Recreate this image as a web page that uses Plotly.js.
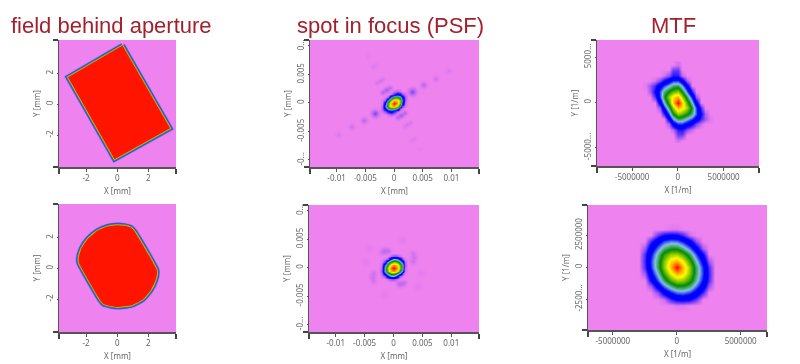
<!DOCTYPE html>
<html><head><meta charset="utf-8">
<script src="https://cdn.plot.ly/plotly-3.0.1.min.js"></script>
<style>html,body{margin:0;padding:0;background:#fff}#g{width:800px;height:364px;filter:blur(0.5px)}</style>
</head><body><div id="g"></div>
<script>
// Titles
var columnTitles = ['field behind aperture', 'spot in focus (PSF)', 'MTF'];

// Aperture outlines, mm
var rectX = [0.34, -3.16, -0.17, 3.40, 0.34];
var rectY = [3.81, 1.75, -3.57, -1.56, 3.81];
var clipX = [-0.02,0.50,0.88,1.12,2.53,2.56,2.48,2.16,1.65,0.92,-0.02,-0.86,-1.06,-2.46,-2.48,-2.31,-1.89,-1.27,-0.64,-0.02];
var clipY = [2.80,2.76,2.65,2.40,-0.07,-0.32,-0.74,-1.42,-2.02,-2.40,-2.51,-2.33,-2.12,0.36,0.63,1.27,1.91,2.44,2.71,2.80];

// PSF core grid, mm (ascending y rows)
var psfGrid = [-0.0025,-0.002,-0.0015,-0.001,-0.0005,0,0.0005,0.001,0.0015,0.002,0.0025];
var psfTopZ = [
 [0,0,0,0,0,0,0,0,0,0,0],
 [0,0,0,.02,.04,.02,0,0,0,0,0],
 [0,.02,.06,.15,.20,.11,.03,0,0,0,0],
 [0,.04,.23,.46,.56,.53,.38,.05,.01,0,0],
 [0,.03,.34,.62,.79,.82,.66,.41,.06,.01,0],
 [0,.01,.26,.60,.84,1,.84,.60,.26,.01,0],
 [0,.01,.06,.41,.66,.82,.79,.62,.34,.03,0],
 [0,0,.01,.05,.38,.53,.56,.46,.23,.04,0],
 [0,0,0,0,.03,.11,.20,.15,.06,.02,0],
 [0,0,0,0,0,.02,.04,.02,0,0,0],
 [0,0,0,0,0,0,0,0,0,0,0]];
var psfBottomZ = [
 [0,0,0,0,0,0,0,0,0,0,0],
 [0,0,0,.02,.05,.06,.03,0,0,0,0],
 [0,.01,.05,.23,.36,.38,.26,.05,.01,0,0],
 [0,.03,.26,.48,.61,.63,.55,.38,.08,.01,0],
 [0,.05,.39,.63,.80,.87,.77,.56,.30,.02,0],
 [0,.03,.40,.66,.87,1,.87,.66,.40,.03,0],
 [0,.02,.30,.56,.77,.87,.80,.63,.39,.05,0],
 [0,.01,.08,.38,.55,.63,.61,.48,.26,.03,0],
 [0,0,.01,.05,.26,.38,.36,.23,.05,.01,0],
 [0,0,0,0,.03,.06,.05,.02,0,0,0],
 [0,0,0,0,0,0,0,0,0,0,0]];

// PSF side lobes: mm, peak level, marker diameter
var lobeTopX = [.00325,.0052,.0073,.0096,-.00325,-.0052,-.0073,-.0096,-.0007,-.0013,-.0019,.0007,.0013,.0019,-.0019,-.0024,-.0029,.0019,.0024,.0029,-.0031,-.0036,.0031,.0036,.0045,-.0045];
var lobeTopY = [.0019,.0031,.0042,.0056,-.0019,-.0031,-.0042,-.0056,.0026,.0022,.0018,-.0026,-.0022,-.0018,.0041,.0038,.0035,-.0041,-.0038,-.0035,.0066,.0063,-.0066,-.0063,-.0082,.0082];
var lobeTopA = [.16,.08,.05,.03,.16,.08,.05,.03,.09,.12,.09,.09,.12,.09,.04,.05,.04,.04,.05,.04,.025,.025,.025,.025,.012,.012];
var lobeTopS = [15,13,12,12,15,13,12,12,10,11,10,10,11,10,9,9,9,9,9,9,9,9,9,9,10,10];
var lobeBotX = [-.0019,-.0014,-.0009,.0019,.0014,.0009,.0034,.0036,.0034,-.0034,-.0036,-.0034,-.0048,-.0042,.0048,.0042,.0016,-.0016];
var lobeBotY = [.0027,.0029,.0029,-.0027,-.0029,-.0029,.0024,.0017,.0010,-.0024,-.0017,-.0010,.0010,.0034,-.0010,-.0034,.0048,-.0048];
var lobeBotA = [.06,.08,.06,.06,.08,.06,.05,.06,.05,.05,.06,.05,.018,.02,.018,.02,.018,.018];
var lobeBotS = [12,13,12,12,13,12,12,13,12,12,13,12,15,15,15,15,15,15];

// MTF grids, 1/m (ascending y rows)
var mtfTopX = [-4000000,-3500000,-3000000,-2500000,-2000000,-1500000,-1000000,-500000,0,500000,1000000,1500000,2000000,2500000,3000000,3500000,4000000];
var mtfTopY = [-4200000,-3600000,-3000000,-2400000,-1800000,-1200000,-600000,0,600000,1200000,1800000,2400000,3000000,3600000,4200000];
var mtfTopZ = [
 [0,0,0,0,0,0,0,0,.02,0,0,0,0,0,0,0,0],
 [0,0,0,0,0,0,0,0,.08,.08,0,0,0,0,0,0,0],
 [0,0,0,0,0,0,0,.03,.12,.13,.06,.02,0,0,0,0,0],
 [0,0,0,0,0,0,.04,.20,.29,.29,.22,.15,.07,.02,0,0,0],
 [0,0,0,0,0,0,.18,.36,.47,.45,.38,.30,.22,.11,.05,.01,0],
 [0,0,0,0,0,.12,.32,.52,.65,.61,.54,.44,.31,.15,.04,0,0],
 [0,0,0,0,.05,.26,.46,.66,.82,.77,.66,.49,.30,.10,0,0,0],
 [0,0,0,0,.19,.39,.59,.80,1,.80,.59,.39,.19,0,0,0,0],
 [0,0,0,.10,.30,.49,.66,.77,.82,.66,.46,.26,.05,0,0,0,0],
 [0,0,.04,.15,.31,.44,.54,.61,.65,.52,.32,.12,0,0,0,0,0],
 [0,.01,.05,.11,.22,.30,.38,.45,.47,.36,.18,0,0,0,0,0,0],
 [0,0,0,.02,.07,.15,.22,.29,.29,.20,.04,0,0,0,0,0,0],
 [0,0,0,0,0,.02,.06,.13,.12,.03,0,0,0,0,0,0,0],
 [0,0,0,0,0,0,0,.08,.08,0,0,0,0,0,0,0,0],
 [0,0,0,0,0,0,0,0,.02,0,0,0,0,0,0,0,0]];
var mtfBotX = [-3500000,-3000000,-2500000,-2000000,-1500000,-1000000,-500000,0,500000,1000000,1500000,2000000,2500000,3000000,3500000];
var mtfBotY = [-3500000,-3000000,-2500000,-2000000,-1500000,-1000000,-500000,0,500000,1000000,1500000,2000000,2500000,3000000,3500000];
var mtfBotZ = [
 [0,0,0,0,0,0,0,0,0,0,0,0,0,0,0],
 [0,0,0,0,0,0,0,.01,.01,0,0,0,0,0,0],
 [0,0,0,0,0,.02,.11,.16,.17,.15,.09,0,0,0,0],
 [0,0,0,0,.06,.18,.27,.33,.34,.30,.22,.11,0,0,0],
 [0,0,0,.04,.19,.32,.43,.50,.50,.44,.33,.20,.05,0,0],
 [0,0,0,.15,.31,.46,.59,.66,.65,.56,.42,.26,.10,0,0],
 [0,0,.05,.23,.40,.57,.73,.83,.78,.63,.46,.29,.11,0,0],
 [0,0,.10,.28,.46,.64,.82,1,.82,.64,.46,.28,.10,0,0],
 [0,0,.11,.29,.46,.63,.78,.83,.73,.57,.40,.23,.05,0,0],
 [0,0,.10,.26,.42,.56,.65,.66,.59,.46,.31,.15,0,0,0],
 [0,0,.05,.20,.33,.44,.50,.50,.43,.32,.19,.04,0,0,0],
 [0,0,0,.11,.22,.30,.34,.33,.27,.18,.06,0,0,0,0],
 [0,0,0,0,.09,.15,.17,.16,.11,.02,0,0,0,0,0],
 [0,0,0,0,0,0,.01,.01,0,0,0,0,0,0,0],
 [0,0,0,0,0,0,0,0,0,0,0,0,0,0,0]];

// Axis ticks
var apXTicks = [-2,0,2], apXText = ['-2','0','2'];
var psfXTicks = [-0.01,-0.005,0,0.005,0.01], psfXText = ['-0.01','-0.005','0','0.005','0.01'];
var psfYText = ['-0...','-0.005','0','0.005','0...'];
var mtfXTicks = [-5000000,0,5000000], mtfXText = ['-5000000','0','5000000'];
var mtfTopYTicks = [-5000000,0,5000000], mtfTopYText = ['-5000...','0','5000...'];
var mtfBotYTicks = [-2500000,0,2500000], mtfBotYText = ['-2500...','0','2500000'];

var VIOLET = '#EE82EE';
var scale = [[0,VIOLET],[.15,'#0000FF'],[.26,'#0000FF'],[.38,'#85C5DC'],[.52,'#008A00'],[.74,'#FFFF00'],[1,'#FF0000']];

// panel frames in page pixels and axis ranges
var panels = [
 {l:59,r:176,t:40,b:167,xr:[-3.74,3.78],yr:[-4.07,4.17],xt:apXTicks,xx:apXText,yt:apXTicks,yx:apXText,xn:'X [mm]',yn:'Y [mm]'},
 {l:310,r:479,t:40,b:167,xr:[-.01463,.0148],yr:[-.01123,.01105],xt:psfXTicks,xx:psfXText,yt:psfXTicks,yx:psfYText,xn:'X [mm]',yn:'Y [mm]'},
 {l:597,r:759,t:40,b:166,xr:[-8840000,8870000],yr:[-7040000,6900000],xt:mtfXTicks,xx:mtfXText,yt:mtfTopYTicks,yx:mtfTopYText,xn:'X [1/m]',yn:'Y [1/m]'},
 {l:59,r:176,t:204,b:332,xr:[-3.74,3.78],yr:[-4.14,4.18],xt:apXTicks,xx:apXText,yt:apXTicks,yx:apXText,xn:'X [mm]',yn:'Y [mm]'},
 {l:309,r:479,t:205,b:332,xr:[-.01463,.0148],yr:[-.0113,.011],xt:psfXTicks,xx:psfXText,yt:psfXTicks,yx:psfYText,xn:'X [mm]',yn:'Y [mm]'},
 {l:588,r:767,t:205,b:330,xr:[-6940000,7060000],yr:[-4920000,4870000],xt:mtfXTicks,xx:mtfXText,yt:mtfBotYTicks,yx:mtfBotYText,xn:'X [1/m]',yn:'Y [1/m]'}
];

var tickFont = {family:'Noto Sans, sans-serif', size:8, color:'#666'};
var layout = {width:800,height:364,margin:{l:0,r:0,t:0,b:0},paper_bgcolor:'#fff',plot_bgcolor:VIOLET,showlegend:false,annotations:[]};
panels.forEach(function(p,i){
  var n = i===0?'':String(i+1);
  layout['xaxis'+n] = {domain:[p.l/800,p.r/800],anchor:'y'+n,range:p.xr,tickmode:'array',tickvals:p.xt,ticktext:p.xx,tickfont:tickFont,ticks:'outside',ticklen:3,tickwidth:1,tickcolor:'#555',showline:true,linecolor:'#555',linewidth:1.5,showgrid:false,zeroline:false,
    minor:{tickmode:'array',tickvals:p.xr,ticks:'outside',ticklen:5,tickwidth:2,tickcolor:'#444',showgrid:false},
    title:{text:p.xn,font:tickFont,standoff:6}};
  layout['yaxis'+n] = {domain:[1-p.b/364,1-p.t/364],anchor:'x'+n,range:p.yr,tickmode:'array',tickvals:p.yt,ticktext:p.yx,tickangle:-90,tickfont:tickFont,ticks:'outside',ticklen:1,tickwidth:1,tickcolor:'#555',showline:true,linecolor:'#555',linewidth:1.5,showgrid:false,zeroline:false,
    minor:{tickmode:'array',tickvals:p.yr,ticks:'outside',ticklen:5,tickwidth:2,tickcolor:'#444',showgrid:false},
    title:{text:p.yn,font:tickFont,standoff:2}};
});
var titleX = [111,390,673];
columnTitles.forEach(function(t,i){
  layout.annotations.push({text:t,xref:'paper',yref:'paper',x:titleX[i]/800,y:1-26/364,xanchor:'center',yanchor:'middle',showarrow:false,font:{family:'Liberation Sans, Arial, sans-serif',size:22,color:'#A3202C'}});
});

function aperture(xs,ys,ax,shape){
  var bands = [[6,'#A878F0'],[4.8,'#3A48E6'],[3,'#1E9A70'],[1.5,'#E8B400']];
  var out = bands.map(function(b){
    return {type:'scatter',mode:'lines',x:xs,y:ys,xaxis:'x'+ax,yaxis:'y'+ax,line:{color:b[1],width:b[0],shape:shape,smoothing:0.5},hoverinfo:'skip'};
  });
  out.push({type:'scatter',mode:'lines',x:xs,y:ys,xaxis:'x'+ax,yaxis:'y'+ax,fill:'toself',fillcolor:'#FF1400',line:{color:'#FF1400',width:0,shape:shape,smoothing:0.5},hoverinfo:'skip'});
  return out;
}
function field(x,y,z,ax){
  return {type:'heatmap',x:x,y:y,z:z,xaxis:'x'+ax,yaxis:'y'+ax,zmin:0,zmax:1,zsmooth:'best',colorscale:scale,showscale:false,hoverinfo:'skip'};
}
function lobeColor(a){
  var m = Math.min(1,a*4.5);
  return 'rgb('+Math.round(238*(1-m))+','+Math.round(130*(1-m))+','+Math.round(238+17*m)+')';
}
function lobes(x,y,a,s,ax){
  return {type:'scatter',mode:'markers',x:x,y:y,xaxis:'x'+ax,yaxis:'y'+ax,hoverinfo:'skip',
    marker:{color:'rgba(238,130,238,0)',size:s,line:{width:0},gradient:{type:'radial',color:a.map(lobeColor)}}};
}
var data = [].concat(
  aperture(rectX,rectY,'','linear'),
  [field(psfGrid,psfGrid,psfTopZ,'2'), lobes(lobeTopX,lobeTopY,lobeTopA,lobeTopS,'2')],
  [field(mtfTopX,mtfTopY,mtfTopZ,'3')],
  aperture(clipX,clipY,'4','spline'),
  [field(psfGrid,psfGrid,psfBottomZ,'5'), lobes(lobeBotX,lobeBotY,lobeBotA,lobeBotS,'5')],
  [field(mtfBotX,mtfBotY,mtfBotZ,'6')]
);
Plotly.newPlot('g',data,layout,{staticPlot:true,displayModeBar:false});
</script></body></html>
